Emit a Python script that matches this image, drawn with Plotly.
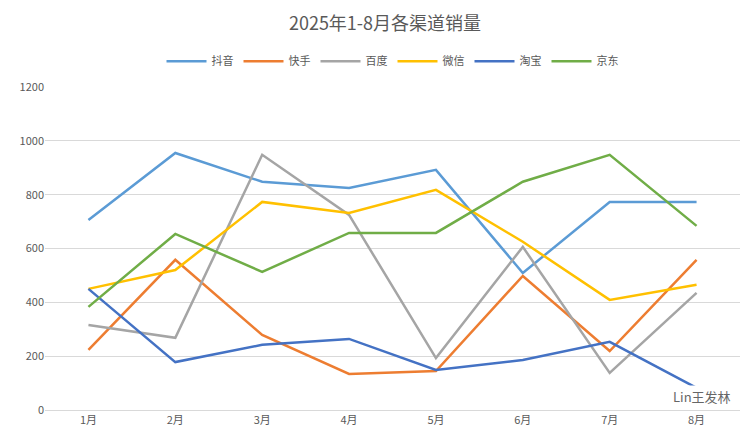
import plotly.graph_objects as go

months = ["1月","2月","3月","4月","5月","6月","7月","8月"]
douyin = [706,955,848,825,892,509,773,773]
kuaishou = [223,558,279,134,145,498,219,558]
baidu = [316,268,948,725,193,606,138,435]
weixin = [450,520,773,732,818,625,409,465]
taobao = [450,178,242,264,149,186,253,82]
jingdong = [383,654,513,658,658,848,948,684]

series = [("抖音",douyin,"#5B9BD5"),("快手",kuaishou,"#ED7D31"),("百度",baidu,"#A5A5A5"),
          ("微信",weixin,"#FFC000"),("淘宝",taobao,"#4472C4"),("京东",jingdong,"#70AD47")]

fig = go.Figure()
for n, v, c in series:
    fig.add_trace(go.Scatter(x=months, y=v, name=n, mode="lines", line=dict(color=c, width=2.5)))

fig.update_layout(
    width=754, height=443, paper_bgcolor="white", plot_bgcolor="white",
    font=dict(family="Noto Sans CJK SC", color="#595959", size=11),
    title=dict(text="2025年1-8月各渠道销量", x=0.5, y=0.964, xanchor="center", yanchor="middle",
               font=dict(size=18, color="#595959")),
    legend=dict(orientation="h", x=0.5, xanchor="center", y=0.880, yref="container", yanchor="middle",
                font=dict(size=11), itemwidth=40),
    margin=dict(l=37, r=22, t=79, b=41, autoexpand=False),
    xaxis=dict(showgrid=False, showline=True, linecolor="#D9D9D9", ticks="", range=[-0.5, 7.5]),
    yaxis=dict(range=[0,1200], dtick=200, gridcolor="#D9D9D9", zeroline=False, showline=False),
)
fig.add_annotation(text="Lin王发林", xref="paper", yref="paper", x=0.99, y=0.005, xanchor="right", yanchor="bottom",
                   showarrow=False, font=dict(size=13, color="#666"), bgcolor="white")
fig.write_html("out.html")
